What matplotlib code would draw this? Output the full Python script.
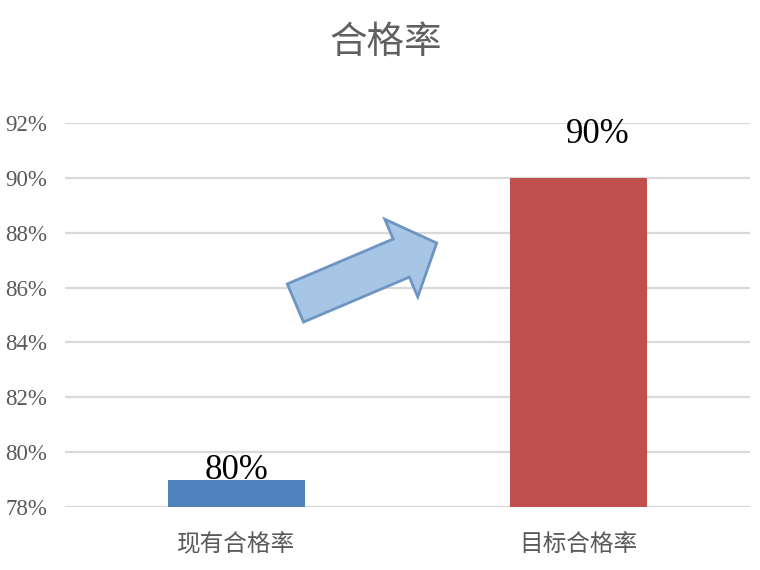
import matplotlib
matplotlib.use('Agg')
import matplotlib.pyplot as plt
import matplotlib.patches as ptc

plt.rcParams['font.family'] = ['Liberation Serif', 'Noto Sans CJK SC', 'DejaVu Sans']

categories = ['现有合格率', '目标合格率']
values = [79, 90]
value_labels = ['80%', '90%']
bar_colors = ['#4F81BD', '#C0504D']
yticks = [78, 80, 82, 84, 86, 88, 90, 92]
title = '合格率'

grey = '#595959'

fig = plt.figure(figsize=(7.6, 5.7), dpi=100)
ax = fig.add_axes([0.0855, 0.1105, 0.901, 0.6737])

x = list(range(len(categories)))
bars = ax.bar(x, values, width=0.4, color=bar_colors, zorder=3)

ax.set_xlim(-0.5, 1.5)
ax.set_ylim(78, 92)
ax.set_yticks(yticks)
ax.set_yticklabels(['%d%%' % v for v in yticks], color=grey, fontsize=16.5)
ax.set_xticks(x)
ax.set_xticklabels(categories, color=grey, fontsize=17, family=['Noto Sans CJK SC'])
ax.tick_params(axis='y', length=0, pad=13)
ax.tick_params(axis='x', length=0, pad=19)
ax.grid(axis='y', color='#d9d9d9', linewidth=1.6, zorder=0)
for s in ax.spines.values():
    s.set_visible(False)

# data labels: offsets in points from the bar top centre
label_offsets = [(0, -5), (14, 19)]
for b, lab, off in zip(bars, value_labels, label_offsets):
    ax.annotate(lab, (b.get_x() + b.get_width() / 2, b.get_height()),
                xytext=off, textcoords='offset points',
                ha='center', va='bottom', fontsize=25, color='black',
                annotation_clip=False, zorder=4)

fig.text(0.508, 0.925, title, ha='center', va='center', fontsize=27,
         color='#606060', family=['Noto Sans CJK SC'])

# decorative arrow (figure inches)
arrow = ptc.FancyArrow(2.954, 2.67, 1.413, 0.60, width=0.414, head_width=0.844,
                       head_length=0.385, length_includes_head=True,
                       transform=fig.dpi_scale_trans, facecolor='#A7C5E5',
                       edgecolor='#6E95C2', linewidth=2, zorder=5)
fig.patches.append(arrow)

fig.savefig('out.png', dpi=100)
